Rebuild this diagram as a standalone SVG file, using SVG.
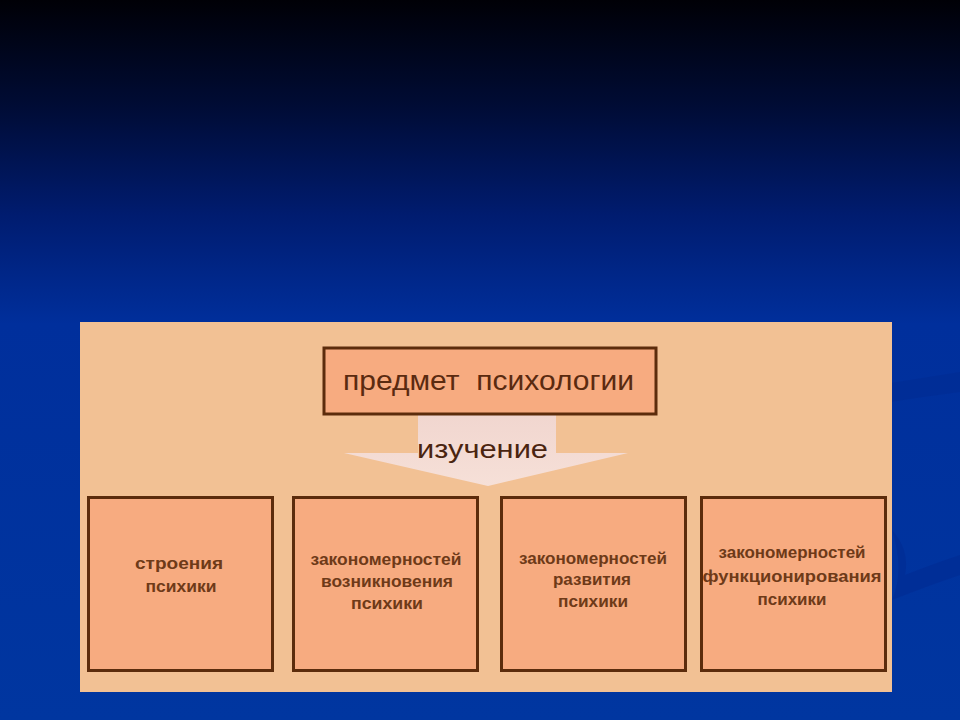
<svg xmlns="http://www.w3.org/2000/svg" width="960" height="720" viewBox="0 0 960 720">
<defs>
<linearGradient id="bg" x1="0" y1="0" x2="0" y2="1">
<stop offset="0" stop-color="#000006"/>
<stop offset="0.15" stop-color="#000c36"/>
<stop offset="0.3" stop-color="#001c70"/>
<stop offset="0.45" stop-color="#002f9c"/>
<stop offset="1" stop-color="#0036a0"/>
</linearGradient>
<linearGradient id="arr" x1="0" y1="0" x2="0" y2="1">
<stop offset="0" stop-color="#f1d6cf"/>
<stop offset="1" stop-color="#f6e0d8"/>
</linearGradient>
<style>
.box{fill:#f7ab80;stroke:#5c2c0c;stroke-width:3}
.t{font-family:"Liberation Sans",Arial,sans-serif;fill:#6e3a18;text-anchor:middle;font-weight:bold}
.s{font-size:17px}
</style>
</defs>
<rect width="960" height="720" fill="url(#bg)"/>
<path d="M780 400 Q880 385 960 372 L960 392 Q880 402 800 418 Z" fill="#002c94" opacity="0.7"/>
<path d="M892 530 Q905 570 892 600 Q930 585 960 575 L960 555 Q930 565 905 575 Q910 550 892 530 Z" fill="#002c94" opacity="0.7"/>
<rect x="80" y="322" width="812" height="370" fill="#f2c194"/>
<g id="connectors">
<path d="M418 414 L556 414 L556 453 L628 453 L488 486 L344 453 L418 453 Z" fill="url(#arr)"/>
<text class="t" x="482.5" y="458" textLength="131" lengthAdjust="spacingAndGlyphs" style="font-size:26px;font-weight:normal;fill:#4a2410">изучение</text>
</g>
<g id="n0">
<rect class="box" x="324" y="348" width="332" height="66"/>
<text class="t" x="488.5" y="390" xml:space="preserve" textLength="291" lengthAdjust="spacingAndGlyphs" style="font-size:27px;font-weight:normal;fill:#5a2a10">предмет  психологии</text>
</g>
<g id="n1">
<rect class="box" x="88.5" y="497.5" width="184" height="173"/>
<text class="t s" x="179" y="569" textLength="88" lengthAdjust="spacingAndGlyphs">строения</text>
<text class="t s" x="181" y="592" textLength="71" lengthAdjust="spacingAndGlyphs">психики</text>
</g>
<g id="n2">
<rect class="box" x="293.5" y="497.5" width="184" height="173"/>
<text class="t s" x="386" y="565" textLength="151" lengthAdjust="spacingAndGlyphs">закономерностей</text>
<text class="t s" x="387" y="587" textLength="132" lengthAdjust="spacingAndGlyphs">возникновения</text>
<text class="t s" x="387" y="609" textLength="72" lengthAdjust="spacingAndGlyphs">психики</text>
</g>
<g id="n3">
<rect class="box" x="501.5" y="497.5" width="184" height="173"/>
<text class="t s" x="593" y="564" textLength="148" lengthAdjust="spacingAndGlyphs">закономерностей</text>
<text class="t s" x="592" y="585" textLength="78" lengthAdjust="spacingAndGlyphs">развития</text>
<text class="t s" x="593" y="607" textLength="70" lengthAdjust="spacingAndGlyphs">психики</text>
</g>
<g id="n4">
<rect class="box" x="701.5" y="497.5" width="184" height="173"/>
<text class="t s" x="792" y="558" textLength="147" lengthAdjust="spacingAndGlyphs">закономерностей</text>
<text class="t s" x="792" y="582" textLength="179" lengthAdjust="spacingAndGlyphs">функционирования</text>
<text class="t s" x="792" y="605" textLength="69" lengthAdjust="spacingAndGlyphs">психики</text>
</g>
</svg>
